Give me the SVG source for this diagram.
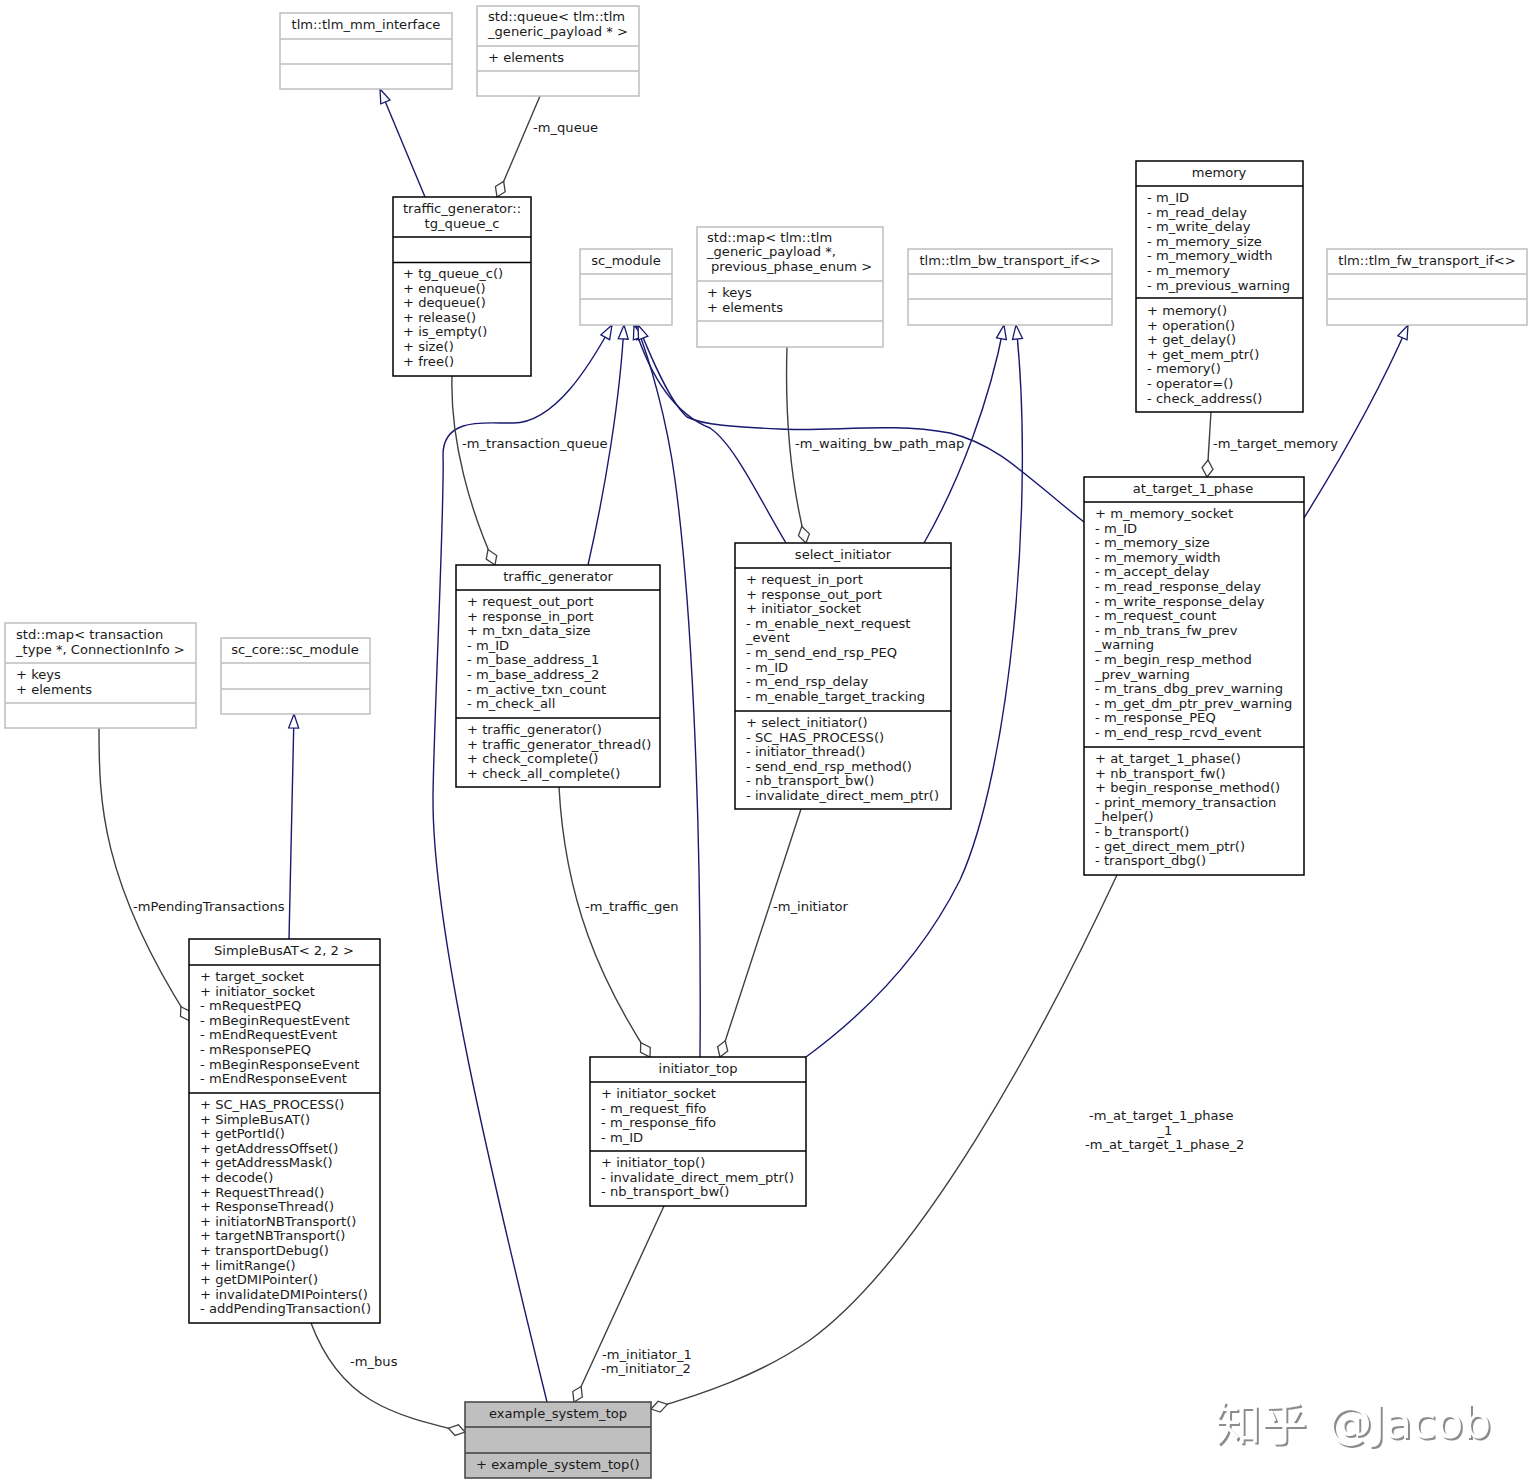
<svg xmlns="http://www.w3.org/2000/svg" width="1533" height="1484" viewBox="0 0 1533 1484">
<style>
text{font-family:"DejaVu Sans","Noto Sans CJK SC",sans-serif;font-size:13.1px;fill:#1a1a1a}
.t{text-anchor:middle}
.b{fill:#fff;stroke:#000;stroke-width:1.5}
.g{fill:#fff;stroke:#bfbfbf;stroke-width:1.5}
.s{fill:#bfbfbf;stroke:#404040;stroke-width:1.5}
.dk{stroke:#000;stroke-width:1.5;fill:none}
.dg{stroke:#bfbfbf;stroke-width:1.5;fill:none}
.ds{stroke:#404040;stroke-width:1.5;fill:none}
.i{fill:none;stroke:#191970;stroke-width:1.4;marker-start:url(#tri)}
.a{fill:none;stroke:#404040;stroke-width:1.4;marker-end:url(#dia)}
.wm{font-size:46px;fill:#fff;filter:url(#sh)}
</style>
<defs>
<marker id="tri" markerUnits="userSpaceOnUse" markerWidth="20" markerHeight="16" viewBox="0 0 20 16" refX="1" refY="8" orient="auto"><path d="M1,8 L15,3 L15,13 Z" fill="#fff" stroke="#191970" stroke-width="1.3"/></marker>
<marker id="dia" markerUnits="userSpaceOnUse" markerWidth="22" markerHeight="14" viewBox="0 0 22 14" refX="20" refY="7" orient="auto"><path d="M20,7 L12,1.500 L3,7 L11,12.500 Z" fill="#fff" stroke="#404040" stroke-width="1.3"/></marker>
<filter id="sh" x="-5%" y="-10%" width="110%" height="130%"><feDropShadow dx="2" dy="2" stdDeviation="0.4" flood-color="#8c8c8c"/></filter>
</defs>

<g id="connectors">
<path class="i" d="M612,325 C590,365 555,423 513,423 C490,424 443,415 443,455 C445,500 433,740 433,800 C433,930 490,1170 547,1402"/>
<path class="i" d="M380,89 L425,197"/>
<path class="a" d="M540,96 L497,197"/>
<path class="a" d="M452,376 C450,440 470,510 495,565"/>
<path class="i" d="M624,325 C620,400 605,490 588,565"/>
<path class="i" d="M636,325 C650,360 667,420 675,480 C690,590 702,800 700,1057"/>
<path class="i" d="M634,325 C648,370 670,412 710,428 C735,445 760,500 786,543"/>
<path class="i" d="M638,325 C652,360 670,402 687,417 C703,425 735,427 780,429 C830,432 890,422 950,433 C1000,445 1030,480 1084,522"/>
<path class="a" d="M787,347 C785,410 790,480 806,543"/>
<path class="i" d="M1004,325 C990,400 960,480 924,543"/>
<path class="i" d="M1016,325 C1035,500 1010,770 960,880 C925,950 870,1010 806,1057"/>
<path class="i" d="M1408,325 C1380,390 1340,460 1304,518"/>
<path class="a" d="M1211,412 L1207,477"/>
<path class="a" d="M99,728 C99,800 100,880 190,1021"/>
<path class="i" d="M294,714 L289,939"/>
<path class="a" d="M311,1323 C340,1400 390,1415 465,1432"/>
<path class="a" d="M559,787 C565,900 600,980 650,1057"/>
<path class="a" d="M801,809 L720,1057"/>
<path class="a" d="M664,1206 L574,1402"/>
<path class="a" d="M1117,875 C1040,1040 920,1260 810,1340 C760,1375 700,1395 651,1409"/>
<text x="533" y="132">-m_queue</text>
<text x="462" y="448">-m_transaction_queue</text>
<text x="795" y="448">-m_waiting_bw_path_map</text>
<text x="1213" y="448">-m_target_memory</text>
<text x="133" y="911">-mPendingTransactions</text>
<text x="585" y="911">-m_traffic_gen</text>
<text x="773" y="911">-m_initiator</text>
<text x="350" y="1366">-m_bus</text>
<text x="602" y="1359">-m_initiator_1</text>
<text x="601" y="1373">-m_initiator_2</text>
<text x="1089" y="1120">-m_at_target_1_phase</text>
<text class="t" x="1165" y="1135">_1</text>
<text x="1085" y="1149">-m_at_target_1_phase_2</text>
</g>

<g id="tlm_mm_interface"><rect class="g" x="280" y="13" width="172" height="76"/><path class="dg" d="M280,39H452M280,64H452"/><text class="t" x="366" y="29">tlm::tlm_mm_interface</text></g>

<g id="std_queue"><rect class="g" x="477" y="6" width="162" height="90"/><path class="dg" d="M477,46H639M477,71H639"/><text x="488" y="21">std::queue&lt; tlm::tlm</text><text x="488" y="36">_generic_payload * &gt;</text><text x="488" y="62">+ elements</text></g>

<g id="tg_queue_c"><rect class="b" x="393" y="197" width="138" height="179"/><path class="dk" d="M393,237H531M393,262.500H531"/><text class="t" x="462" y="213">traffic_generator::</text><text class="t" x="462" y="228">tg_queue_c</text>
<text x="403" y="278">+ tg_queue_c()<tspan x="403" dy="14.600">+ enqueue()</tspan><tspan x="403" dy="14.600">+ dequeue()</tspan><tspan x="403" dy="14.600">+ release()</tspan><tspan x="403" dy="14.600">+ is_empty()</tspan><tspan x="403" dy="14.600">+ size()</tspan><tspan x="403" dy="14.600">+ free()</tspan></text></g>

<g id="sc_module"><rect class="g" x="580" y="249" width="92" height="76"/><path class="dg" d="M580,274H672M580,299H672"/><text class="t" x="626" y="265">sc_module</text></g>

<g id="std_map_payload"><rect class="g" x="697" y="227" width="186" height="120"/><path class="dg" d="M697,281H883M697,321H883"/><text x="707" y="242">std::map&lt; tlm::tlm</text><text x="707" y="256">_generic_payload *,</text><text x="711" y="271">previous_phase_enum &gt;</text><text x="707" y="297">+ keys</text><text x="707" y="312">+ elements</text></g>

<g id="tlm_bw_transport_if"><rect class="g" x="908" y="249" width="204" height="76"/><path class="dg" d="M908,274H1112M908,299H1112"/><text class="t" x="1010" y="265">tlm::tlm_bw_transport_if&lt;&gt;</text></g>

<g id="tlm_fw_transport_if"><rect class="g" x="1327" y="249" width="200" height="76"/><path class="dg" d="M1327,274H1527M1327,299H1527"/><text class="t" x="1427" y="265">tlm::tlm_fw_transport_if&lt;&gt;</text></g>

<g id="memory"><rect class="b" x="1136" y="161" width="167" height="251"/><path class="dk" d="M1136,186H1303M1136,298H1303"/><text class="t" x="1219" y="177">memory</text>
<text x="1147" y="202">- m_ID<tspan x="1147" dy="14.600">- m_read_delay</tspan><tspan x="1147" dy="14.600">- m_write_delay</tspan><tspan x="1147" dy="14.600">- m_memory_size</tspan><tspan x="1147" dy="14.600">- m_memory_width</tspan><tspan x="1147" dy="14.600">- m_memory</tspan><tspan x="1147" dy="14.600">- m_previous_warning</tspan></text>
<text x="1147" y="315">+ memory()<tspan x="1147" dy="14.600">+ operation()</tspan><tspan x="1147" dy="14.600">+ get_delay()</tspan><tspan x="1147" dy="14.600">+ get_mem_ptr()</tspan><tspan x="1147" dy="14.600">- memory()</tspan><tspan x="1147" dy="14.600">- operator=()</tspan><tspan x="1147" dy="14.600">- check_address()</tspan></text></g>

<g id="at_target_1_phase"><rect class="b" x="1084" y="477" width="220" height="398"/><path class="dk" d="M1084,502H1304M1084,747H1304"/><text class="t" x="1193" y="493">at_target_1_phase</text>
<text x="1095" y="518">+ m_memory_socket<tspan x="1095" dy="14.600">- m_ID</tspan><tspan x="1095" dy="14.600">- m_memory_size</tspan><tspan x="1095" dy="14.600">- m_memory_width</tspan><tspan x="1095" dy="14.600">- m_accept_delay</tspan><tspan x="1095" dy="14.600">- m_read_response_delay</tspan><tspan x="1095" dy="14.600">- m_write_response_delay</tspan><tspan x="1095" dy="14.600">- m_request_count</tspan><tspan x="1095" dy="14.600">- m_nb_trans_fw_prev</tspan><tspan x="1095" dy="14.600">_warning</tspan><tspan x="1095" dy="14.600">- m_begin_resp_method</tspan><tspan x="1095" dy="14.600">_prev_warning</tspan><tspan x="1095" dy="14.600">- m_trans_dbg_prev_warning</tspan><tspan x="1095" dy="14.600">- m_get_dm_ptr_prev_warning</tspan><tspan x="1095" dy="14.600">- m_response_PEQ</tspan><tspan x="1095" dy="14.600">- m_end_resp_rcvd_event</tspan></text>
<text x="1095" y="763">+ at_target_1_phase()<tspan x="1095" dy="14.600">+ nb_transport_fw()</tspan><tspan x="1095" dy="14.600">+ begin_response_method()</tspan><tspan x="1095" dy="14.600">- print_memory_transaction</tspan><tspan x="1095" dy="14.600">_helper()</tspan><tspan x="1095" dy="14.600">- b_transport()</tspan><tspan x="1095" dy="14.600">- get_direct_mem_ptr()</tspan><tspan x="1095" dy="14.600">- transport_dbg()</tspan></text></g>

<g id="select_initiator"><rect class="b" x="735" y="543" width="216" height="266"/><path class="dk" d="M735,568H951M735,711H951"/><text class="t" x="843" y="559">select_initiator</text>
<text x="746" y="584">+ request_in_port<tspan x="746" dy="14.600">+ response_out_port</tspan><tspan x="746" dy="14.600">+ initiator_socket</tspan><tspan x="746" dy="14.600">- m_enable_next_request</tspan><tspan x="746" dy="14.600">_event</tspan><tspan x="746" dy="14.600">- m_send_end_rsp_PEQ</tspan><tspan x="746" dy="14.600">- m_ID</tspan><tspan x="746" dy="14.600">- m_end_rsp_delay</tspan><tspan x="746" dy="14.600">- m_enable_target_tracking</tspan></text>
<text x="746" y="727">+ select_initiator()<tspan x="746" dy="14.600">- SC_HAS_PROCESS()</tspan><tspan x="746" dy="14.600">- initiator_thread()</tspan><tspan x="746" dy="14.600">- send_end_rsp_method()</tspan><tspan x="746" dy="14.600">- nb_transport_bw()</tspan><tspan x="746" dy="14.600">- invalidate_direct_mem_ptr()</tspan></text></g>

<g id="traffic_generator"><rect class="b" x="456" y="565" width="204" height="222"/><path class="dk" d="M456,590H660M456,718H660"/><text class="t" x="558" y="581">traffic_generator</text>
<text x="467" y="606">+ request_out_port<tspan x="467" dy="14.600">+ response_in_port</tspan><tspan x="467" dy="14.600">+ m_txn_data_size</tspan><tspan x="467" dy="14.600">- m_ID</tspan><tspan x="467" dy="14.600">- m_base_address_1</tspan><tspan x="467" dy="14.600">- m_base_address_2</tspan><tspan x="467" dy="14.600">- m_active_txn_count</tspan><tspan x="467" dy="14.600">- m_check_all</tspan></text>
<text x="467" y="734">+ traffic_generator()<tspan x="467" dy="14.600">+ traffic_generator_thread()</tspan><tspan x="467" dy="14.600">+ check_complete()</tspan><tspan x="467" dy="14.600">+ check_all_complete()</tspan></text></g>

<g id="std_map_transaction"><rect class="g" x="5" y="623" width="191" height="105"/><path class="dg" d="M5,663H196M5,703H196"/><text x="16" y="639">std::map&lt; transaction</text><text x="16" y="654">_type *, ConnectionInfo &gt;</text><text x="16" y="679">+ keys</text><text x="16" y="694">+ elements</text></g>

<g id="sc_core_sc_module"><rect class="g" x="221" y="638" width="149" height="76"/><path class="dg" d="M221,663H370M221,689H370"/><text class="t" x="295" y="654">sc_core::sc_module</text></g>

<g id="SimpleBusAT"><rect class="b" x="189" y="939" width="191" height="384"/><path class="dk" d="M189,965H380M189,1093H380"/><text class="t" x="284" y="955">SimpleBusAT&lt; 2, 2 &gt;</text>
<text x="200" y="981">+ target_socket<tspan x="200" dy="14.600">+ initiator_socket</tspan><tspan x="200" dy="14.600">- mRequestPEQ</tspan><tspan x="200" dy="14.600">- mBeginRequestEvent</tspan><tspan x="200" dy="14.600">- mEndRequestEvent</tspan><tspan x="200" dy="14.600">- mResponsePEQ</tspan><tspan x="200" dy="14.600">- mBeginResponseEvent</tspan><tspan x="200" dy="14.600">- mEndResponseEvent</tspan></text>
<text x="200" y="1109">+ SC_HAS_PROCESS()<tspan x="200" dy="14.600">+ SimpleBusAT()</tspan><tspan x="200" dy="14.600">+ getPortId()</tspan><tspan x="200" dy="14.600">+ getAddressOffset()</tspan><tspan x="200" dy="14.600">+ getAddressMask()</tspan><tspan x="200" dy="14.600">+ decode()</tspan><tspan x="200" dy="14.600">+ RequestThread()</tspan><tspan x="200" dy="14.600">+ ResponseThread()</tspan><tspan x="200" dy="14.600">+ initiatorNBTransport()</tspan><tspan x="200" dy="14.600">+ targetNBTransport()</tspan><tspan x="200" dy="14.600">+ transportDebug()</tspan><tspan x="200" dy="14.600">+ limitRange()</tspan><tspan x="200" dy="14.600">+ getDMIPointer()</tspan><tspan x="200" dy="14.600">+ invalidateDMIPointers()</tspan><tspan x="200" dy="14.600">- addPendingTransaction()</tspan></text></g>

<g id="initiator_top"><rect class="b" x="590" y="1057" width="216" height="149"/><path class="dk" d="M590,1082H806M590,1151H806"/><text class="t" x="698" y="1073">initiator_top</text>
<text x="601" y="1098">+ initiator_socket<tspan x="601" dy="14.600">- m_request_fifo</tspan><tspan x="601" dy="14.600">- m_response_fifo</tspan><tspan x="601" dy="14.600">- m_ID</tspan></text>
<text x="601" y="1167">+ initiator_top()<tspan x="601" dy="14.600">- invalidate_direct_mem_ptr()</tspan><tspan x="601" dy="14.600">- nb_transport_bw()</tspan></text></g>

<g id="example_system_top"><rect class="s" x="465" y="1402" width="186" height="76"/><path class="ds" d="M465,1427H651M465,1453H651"/><text class="t" x="558" y="1418">example_system_top</text><text x="476" y="1469">+ example_system_top()</text></g>

<g id="watermark"><text class="wm" x="1215" y="1440" style="font-family:'Noto Sans CJK SC',sans-serif">知乎</text><text class="wm" x="1328" y="1438" style="font-family:'DejaVu Sans',sans-serif;font-size:44px">@Jacob</text></g>
</svg>
